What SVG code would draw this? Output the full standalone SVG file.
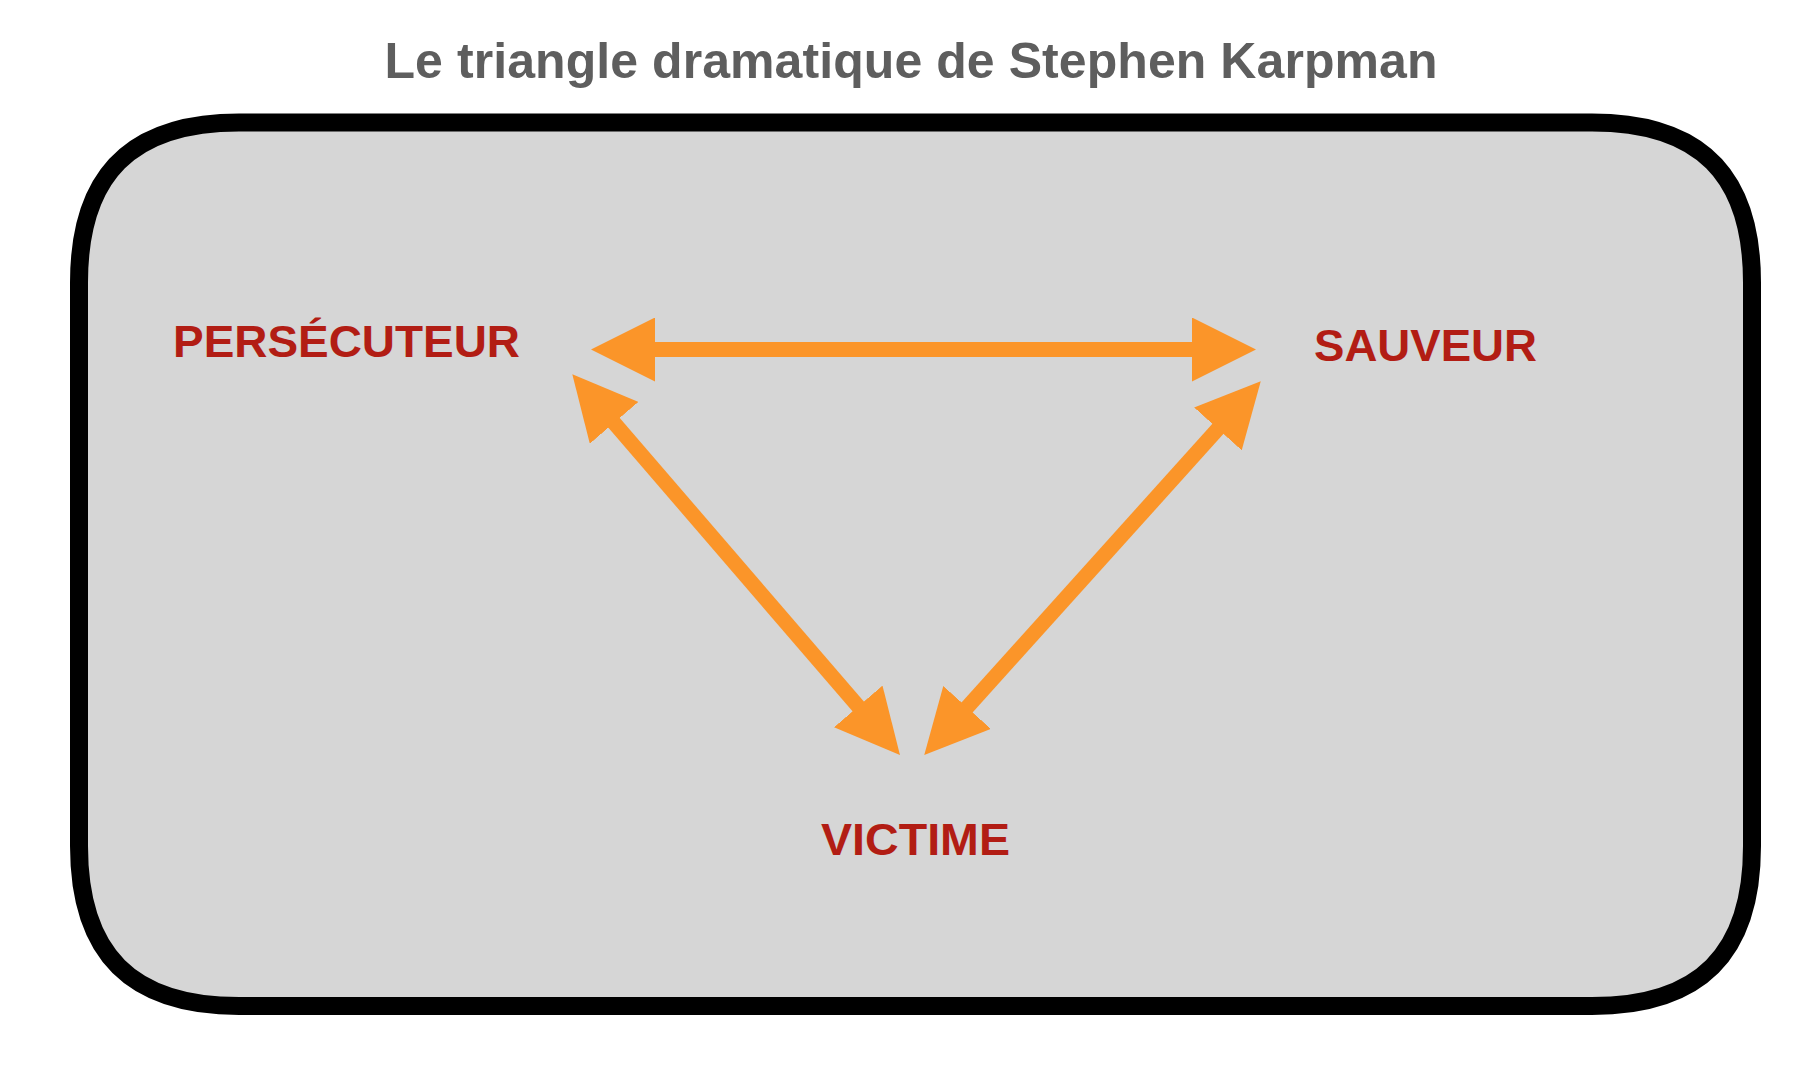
<svg xmlns="http://www.w3.org/2000/svg" width="1800" height="1087" viewBox="0 0 1800 1087">
  <style>
    .title { font-family: "Liberation Sans", Arial, Helvetica, sans-serif; font-weight: bold; font-size: 50px; fill: #5e5e5e; }
    .label { font-family: "Liberation Sans", Arial, Helvetica, sans-serif; font-weight: bold; font-size: 45px; fill: #b21d14; }
    .frame { fill: #d6d6d6; stroke: #000000; stroke-width: 18; }
    .conn { stroke: #fb9529; stroke-width: 15; fill: none; stroke-linecap: butt; marker-start: url(#head); marker-end: url(#head); }
  </style>
  <defs>
    <marker id="head" markerUnits="userSpaceOnUse" markerWidth="64" markerHeight="64" viewBox="0 0 64 64" refX="30" refY="32" orient="auto-start-reverse">
      <path d="M0,0 L64,32 L0,64 Z" fill="#fb9529"/>
    </marker>
  </defs>
  <rect width="1800" height="1087" fill="#ffffff"/>
  <text class="title" x="384.5" y="78" textLength="1053" lengthAdjust="spacing">Le triangle dramatique de Stephen Karpman</text>
  <g id="frame">
    <path class="frame" d="M239,122.5 H1592 C1700,122.5 1752,174.5 1752,282.5 V846 C1752,954 1700,1006 1592,1006 H239 C131,1006 79,954 79,846 V282.5 C79,174.5 131,122.5 239,122.5 Z"/>
  </g>
  <g id="node-persecuteur">
    <text class="label" x="173" y="357" textLength="347" lengthAdjust="spacingAndGlyphs">PERSÉCUTEUR</text>
  </g>
  <g id="node-sauveur">
    <text class="label" x="1314" y="360.5" textLength="223" lengthAdjust="spacingAndGlyphs">SAUVEUR</text>
  </g>
  <g id="node-victime">
    <text class="label" x="821" y="854.5" textLength="189" lengthAdjust="spacingAndGlyphs">VICTIME</text>
  </g>
  <g id="connectors">
    <line class="conn" x1="625" y1="349.5" x2="1222" y2="349.5"/>
    <line class="conn" x1="594.5" y1="400.1" x2="877.8" y2="729.2"/>
    <line class="conn" x1="1238" y1="406.6" x2="947" y2="729.7"/>
  </g>
</svg>
